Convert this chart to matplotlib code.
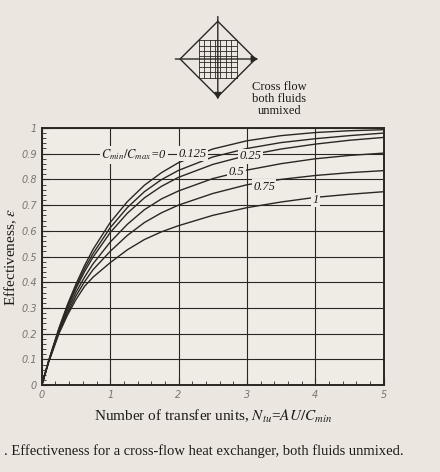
import matplotlib
matplotlib.use("Agg")
import matplotlib.pyplot as plt
import numpy as np

plt.rcParams["mathtext.fontset"] = "stix"
serif = "Liberation Serif"

ntu = [0, 0.1, 0.25, 0.375, 0.5, 0.625, 0.75, 1, 1.25, 1.5, 1.75, 2, 2.5, 3, 3.5, 4, 4.5, 5]
eff = {
    "0":     [0, .095, .221, .313, .393, .465, .528, .632, .713, .777, .826, .865, .918, .950, .970, .982, .989, .993],
    "0.125": [0, .094, .218, .306, .384, .453, .512, .612, .690, .752, .799, .835, .887, .920, .943, .958, .970, .980],
    "0.25":  [0, .093, .215, .300, .376, .441, .498, .593, .668, .728, .773, .808, .858, .893, .918, .937, .952, .963],
    "0.5":   [0, .092, .210, .290, .361, .420, .472, .556, .625, .682, .724, .755, .803, .836, .861, .880, .893, .902],
    "0.75":  [0, .090, .205, .280, .347, .402, .449, .520, .582, .632, .670, .700, .745, .779, .800, .815, .826, .834],
    "1":     [0, .089, .200, .272, .333, .384, .420, .476, .526, .566, .596, .620, .660, .690, .712, .730, .742, .752],
}
# label positions (N, eps) for each curve label
labels = {
    "0":     (1.35, 0.895, r"$C_{min}/C_{max}$=0"),
    "0.125": (2.2, 0.9, "0.125"),
    "0.25":  (3.05, 0.89, "0.25"),
    "0.5":   (2.85, 0.83, "0.5"),
    "0.75":  (3.25, 0.772, "0.75"),
    "1":     (4.0, 0.72, "1"),
}

bg = "#ebe6df"
fig = plt.figure(figsize=(4.4, 4.72), dpi=100, facecolor=bg)
ax = fig.add_axes([0.095, 0.184, 0.777, 0.545], facecolor="#efebe5")

for k, y in eff.items():
    ax.plot(ntu, y, color="#2a2622", lw=1.0)
for k, (x, y, t) in labels.items():
    ax.text(x, y, t, ha="center", va="center", fontsize=9, family=serif, style="italic",
            color="#1e1b18", bbox=dict(fc="#efebe5", ec="none", pad=1.0))

ax.set_xlim(0, 5)
ax.set_ylim(0, 1)
ax.set_xticks(range(6))
ax.set_yticks(np.arange(0, 1.01, 0.1))
ax.set_yticklabels(["0", "0.1", "0.2", "0.3", "0.4", "0.5", "0.6", "0.7", "0.8", "0.9", "1"])
ax.set_xticks(np.arange(0, 5.01, 0.2), minor=True)
ax.set_yticks(np.arange(0, 1.001, 0.02), minor=True)
ax.tick_params(which="both", direction="in", colors="#2a2622", labelcolor="#7a7570",
               labelsize=7)
ax.tick_params(which="major", length=5)
ax.tick_params(which="minor", length=3)
for lab in ax.get_xticklabels() + ax.get_yticklabels():
    lab.set_style("italic")
ax.grid(True, which="major", color="#2a2622", lw=0.8)
for s in ax.spines.values():
    s.set_linewidth(1.4)
    s.set_color("#2a2622")
ax.set_xlabel(r"Number of transfer units, $N_{tu}$=$AU/C_{min}$", family=serif,
              fontsize=11, color="#1e1b18", labelpad=6)
ax.set_ylabel(r"Effectiveness, $\varepsilon$", family=serif, fontsize=11,
              color="#1e1b18", labelpad=2)

fig.text(0.01, 0.035, ". Effectiveness for a cross-flow heat exchanger, both fluids unmixed.",
         family=serif, fontsize=10.5, color="#1e1b18")

# schematic
sx = fig.add_axes([0.375, 0.775, 0.24, 0.2])
sx.axis("off")
sx.set_aspect("equal")
sx.set_xlim(-1.4, 1.4)
sx.set_ylim(-1.15, 1.15)
c = "#2a2622"
sx.plot([0, 1, 0, -1, 0], [1, 0, -1, 0, 1], color=c, lw=1)
sx.annotate("", xy=(1.15, 0), xytext=(-1.2, 0), arrowprops=dict(arrowstyle="-|>", color=c, lw=1))
sx.annotate("", xy=(0, -1.15), xytext=(0, 1.2), arrowprops=dict(arrowstyle="-|>", color=c, lw=1))
g = np.linspace(-0.5, 0.5, 8)
for v in g:
    sx.plot([v, v], [-0.5, 0.5], color=c, lw=0.6)
    sx.plot([-0.5, 0.5], [v, v], color=c, lw=0.6)
fig.text(0.635, 0.79, "Cross flow\nboth fluids\nunmixed", ha="center", va="center",
         family=serif, fontsize=9, color="#1e1b18", linespacing=1.0)

fig.savefig("out.png", dpi=100, facecolor=bg)
